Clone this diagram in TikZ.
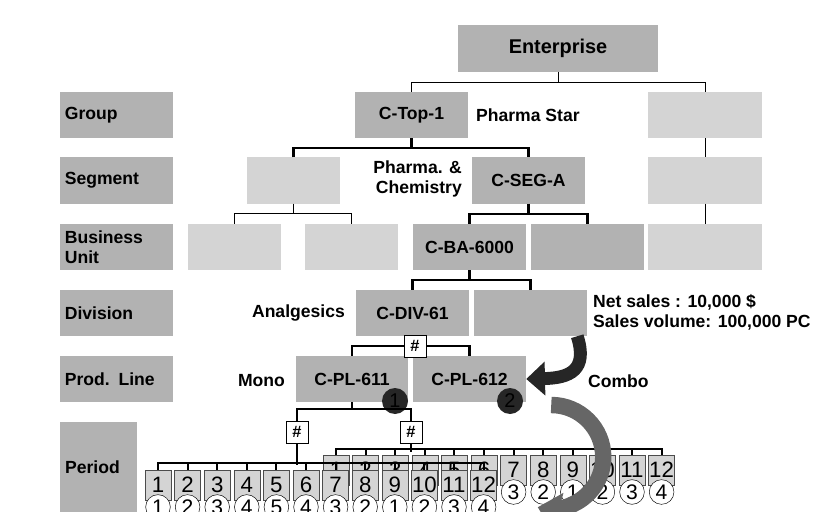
\documentclass[tikz,border=0pt]{standalone}
\usepackage{fontspec}
\setmainfont{Liberation Sans}
\usetikzlibrary{arrows.meta}
\begin{document}
\begin{tikzpicture}[x=0.03cm,y=-0.03cm,
			box/.style={rectangle, inner sep=0pt, font=\bfseries\fontsize{15}{17}\selectfont, text centered},
			dark/.style={box, fill=black!30, minimum width=3.39cm, minimum height=1.38cm},
			light/.style={box, fill=black!17, minimum height=1.38cm},
			lvl/.style={box, fill=black!30, minimum width=3.39cm, minimum height=1.38cm, align=left, text width=3.1cm},
			hash/.style={box, draw=black, fill=white, minimum size=0.66cm, font=\bfseries\fontsize{14}{16}\selectfont},
			per/.style={box, draw=black!70, fill=black!17, minimum width=0.78cm, minimum height=0.9cm, font=\fontsize{19}{21}\selectfont, text depth=-5pt},
			num/.style={circle, draw=black, fill=white, inner sep=0pt, minimum size=0.74cm, font=\fontsize{18}{20}\selectfont},
			ball/.style={circle, fill=black!85, inner sep=0pt, minimum size=0.78cm, font=\fontsize{17}{19}\selectfont},
			txt/.style={font=\bfseries\fontsize{15}{17}\selectfont},
			thin/.style={draw=black, line width=0.8pt},
			thk/.style={draw=black, line width=1.8pt}
		]
		\useasboundingbox (0,0) rectangle (816,512);
		\clip (0,0) rectangle (816,512);

		% Levels
		\node[lvl] (lgroup) at (116.5,115) {Group};
		\node[lvl] (lseg) at (116.5,180.5) {Segment};
		\node[lvl] (lbu) at (116.5,247) {Business\\Unit};
		\node[lvl] (ldiv) at (116.5,313) {Division};
		\node[lvl] (lpl) at (116.5,379) {Prod. Line};
		\node[lvl, minimum width=2.31cm, text width=2cm, minimum height=2.7cm] (lper) at (98.5,467) {Period};

		% Enterprise and group
		\node[dark, minimum width=6cm, minimum height=1.41cm, font=\bfseries\fontsize{17}{19}\selectfont] (ent) at (558,48.5) {Enterprise};
		\node[dark] (top) at (411.5,115) {C-Top-1};
		\node[light, minimum width=3.42cm] (grp2) at (705,115) {};

		% Segment
		\node[light, minimum width=2.79cm] (seg1) at (293.5,180.5) {};
		\node[dark] (sega) at (528.5,180.5) {C-SEG-A};
		\node[light, minimum width=3.42cm] (seg3) at (705,180.5) {};

		% Business unit
		\node[light, minimum width=2.79cm] (bu1) at (234.5,247) {};
		\node[light, minimum width=2.79cm] (bu2) at (351.5,247) {};
		\node[dark] (ba) at (469.5,247) {C-BA-6000};
		\node[dark] (bu4) at (587.5,247) {};
		\node[light, minimum width=3.42cm] (bu5) at (705,247) {};

		% Division and product line
		\node[dark] (div) at (412.5,313) {C-DIV-61};
		\node[dark] (div2) at (530.5,313) {};
		\node[dark, minimum width=3.36cm] (pl1) at (352,379) {C-PL-611};
		\node[dark, minimum width=3.39cm] (pl2) at (469.5,379) {C-PL-612};
		\node[ball] (b1) at (395,401) {1};
		\node[ball] (b2) at (510,401) {2};

		% Texts
		\node[txt, anchor=west] (tstar) at (472,115) {Pharma Star};
		\node[txt, align=right, anchor=east] (tchem) at (466,179) {Pharma. \&\\Chemistry};
		\node[txt, anchor=east] (tanal) at (349,313) {Analgesics};
		\node[txt, anchor=east] (tmono) at (289,381) {Mono};
		\node[txt, anchor=west] (tcombo) at (584,381) {Combo};
		\node[txt, align=left, anchor=west] (tsales) at (589,312) {Net sales : 10,000 \$\\Sales volume: 100,000 PC};

		% Connectors
		\draw[thin] (ent.south) -- ++(0,10) coordinate (e1);
		\draw[thin] (top.north) |- (e1) -| (grp2.north);
		\draw[thin] (grp2) -- (seg3) -- (bu5);
		\draw[thk] (top.south) -- ++(0,10) coordinate (t1);
		\draw[thk] (seg1.north) |- (t1) -| (sega.north);
		\draw[thin] (seg1.south) -- ++(0,10) coordinate (s1);
		\draw[thin] (bu1.north) |- (s1) -| (bu2.north);
		\draw[thk] (sega.south) -- ++(0,10) coordinate (s2);
		\draw[thk] (ba.north) |- (s2) -| (bu4.north);
		\draw[thk] (ba.south) -- ++(0,10) coordinate (s3);
		\draw[thk] (div.north) |- (s3) -| (div2.north);
		\node[hash] (h0) at (415,346) {\#};
		\draw[thk] (pl1.north) |- (h0.west);
		\draw[thk] (pl2.north) |- (h0.east);
		\draw[thk] (pl1.south) -- ++(0,7) coordinate (p1);
		\node[hash] (h1) at (297,432) {\#};
		\node[hash] (h2) at (411,432) {\#};
		\draw[thk] (h1.north) |- (p1) -| (h2.north);

		% Period rows
		\draw[thk] (h2.south) -- ++(0,9) coordinate (r2);
		\foreach \i/\c in {1/1,2/2,3/3,4/4,5/5,6/4,7/3,8/2,9/1,10/2,11/3,12/4} {
			\node[per] (q\i) at (336+29.6*\i-29.6,470) {\i};
			\node[num] (qc\i) at (336+29.6*\i-29.6,492) {\c};
		}
		\draw[thk] (q1.north) -- ++(0,-6) -| (q12.north);
		\foreach \i in {2,...,11} \draw[thk] (q\i.north) -- ++(0,-6);
		\draw[thk] (h1.south) -- ++(0,22) coordinate (r1);
		\foreach \i/\c in {1/1,2/2,3/3,4/4,5/5,6/4,7/3,8/2,9/1,10/2,11/3,12/4} {
			\node[per] (p\i) at (158+29.6*\i-29.6,485) {\i};
			\node[num] (pc\i) at (158+29.6*\i-29.6,507) {\c};
		}
		\draw[thk] (p1.north) -- ++(0,-7) -| (p12.north);
		\foreach \i in {2,...,11} \draw[thk] (p\i.north) -- ++(0,-7);

		% Arrows
		\draw[line width=11pt, black!85, -{Triangle[length=16pt,width=28pt]}] (div2.south east) ++(-10,0) coordinate (a0) .. controls (588,370) and (570,378) .. (pl2.east);
		\draw[line width=14pt, black!60, -{Triangle[length=18pt,width=34pt]}] (b2.east) ++(28,4) coordinate (a1) arc (-90:105:52);
	\end{tikzpicture}
\end{document}
